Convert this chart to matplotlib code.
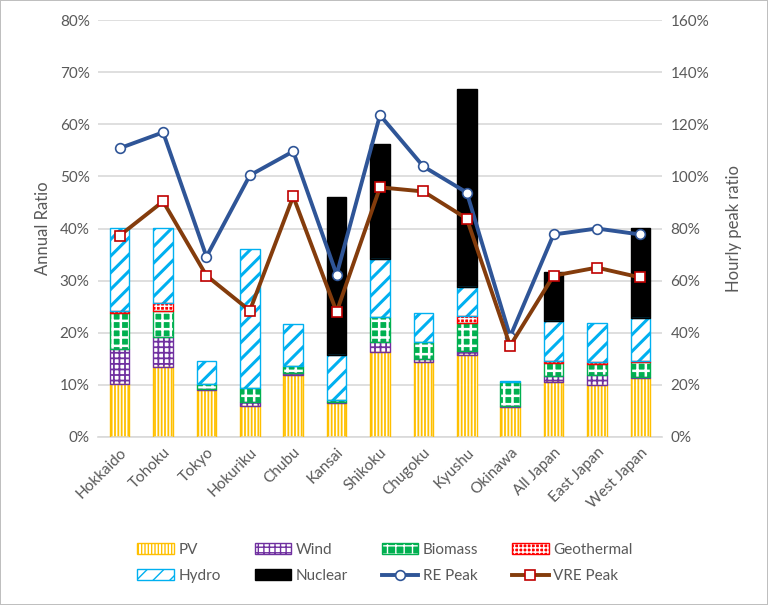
import matplotlib
matplotlib.use("Agg")
import matplotlib.pyplot as plt
from matplotlib.legend_handler import HandlerTuple
import numpy as np

plt.rcParams['font.family'] = ['Lato', 'DejaVu Sans']

regions = ["Hokkaido", "Tohoku", "Tokyo", "Hokuriku", "Chubu", "Kansai", "Shikoku",
           "Chugoku", "Kyushu", "Okinawa", "All Japan", "East Japan", "West Japan"]

pv         = [10.2, 13.5, 9.0, 6.0, 11.9, 6.5, 16.3, 14.4, 15.8, 5.8, 10.6, 10.0, 11.3]
wind       = [6.7, 5.7, 0.2, 0.7, 0.3, 0.2, 2.0, 0.6, 0.7, 0.1, 1.1, 1.9, 0.3]
biomass    = [6.9, 5.0, 1.0, 2.7, 1.5, 0.4, 4.8, 3.3, 5.4, 4.7, 2.5, 2.1, 2.7]
geothermal = [0.4, 1.6, 0.0, 0.0, 0.0, 0.0, 0.0, 0.0, 1.4, 0.0, 0.3, 0.3, 0.3]
hydro      = [15.8, 14.2, 4.4, 26.6, 8.0, 8.7, 11.1, 5.5, 5.5, 0.2, 7.8, 7.6, 8.2]
nuclear    = [0.0, 0.0, 0.0, 0.0, 0.0, 30.2, 22.0, 0.0, 37.9, 0.0, 9.4, 0.0, 17.3]

re_peak  = [110.8, 116.9, 69.2, 100.4, 109.6, 62.3, 123.5, 103.8, 93.8, 38.5, 77.7, 80.0, 77.7]
vre_peak = [77.3, 90.4, 61.9, 48.5, 92.3, 48.0, 95.8, 94.2, 83.8, 35.0, 61.9, 65.0, 61.2]

left_ticks = [0, 10, 20, 30, 40, 50, 60, 70, 80]
right_ticks = [0, 20, 40, 60, 80, 100, 120, 140, 160]

txt = '#595959'
fig = plt.figure(figsize=(7.68, 6.05), dpi=100)
fig.patch.set_edgecolor('#BFBFBF')
fig.patch.set_linewidth(1.2)
ax = fig.add_axes([98/768, 1-437/605, (662-98)/768, (437-20)/605])
ax2 = ax.twinx()

x = np.arange(len(regions))
w = 0.45
# name, values, face, hatch colour, hatch, hatch lw, outline colour
series = [
    ("PV", pv, 'white', '#FFC000', '|||||', 1.3, '#FFC000'),
    ("Wind", wind, 'white', '#7030A0', '+++', 1.3, '#7030A0'),
    ("Biomass", biomass, '#00B050', 'white', '++', 1.8, '#00B050'),
    ("Geothermal", geothermal, '#FF0000', 'white', '++++', 1.0, '#FF0000'),
    ("Hydro", hydro, 'white', '#00B0F0', '//', 2.2, '#00B0F0'),
    ("Nuclear", nuclear, 'black', 'black', None, 1.0, 'black'),
]
bottom = np.zeros(len(regions))
handles = {}
for name, vals, fc, hc, hatch, hlw, oc in series:
    vals = np.array(vals)
    m = vals > 0
    fill = ax.bar(x[m], vals[m], w, bottom=bottom[m], facecolor=fc, edgecolor=hc,
                  hatch=hatch, linewidth=0, zorder=2)
    for b in fill:
        if hasattr(b, 'set_hatch_linewidth'):
            b.set_hatch_linewidth(hlw)
    outline = ax.bar(x[m], vals[m], w, bottom=bottom[m], fill=False, edgecolor=oc,
                     linewidth=1.0, zorder=3)
    handles[name] = (fill.patches[0], outline.patches[0])
    bottom = bottom + vals

ax.set_xlim(-0.5, len(regions) - 0.5)
ax.set_ylim(0, 80)
ax.set_yticks(left_ticks)
ax.set_yticklabels([f"{t}%" for t in left_ticks], color=txt, fontsize=11)
ax.set_xticks(x)
ax.set_xticklabels(regions, rotation=45, ha='right', rotation_mode='anchor',
                   color=txt, fontsize=11)
ax.grid(axis='y', color='#D9D9D9', linewidth=1.2, zorder=0)
ax.set_axisbelow(True)
ax.tick_params(length=0, pad=6)
for s in ['left', 'right', 'top']:
    ax.spines[s].set_visible(False)
ax.spines['bottom'].set_color('#D9D9D9')
ax.spines['bottom'].set_linewidth(1.2)
ax.set_ylabel("Annual Ratio", color=txt, fontsize=12, labelpad=6)

l1, = ax2.plot(x, re_peak, color='#2F5597', linewidth=2.8, marker='o', markersize=7,
               markerfacecolor='white', markeredgecolor='#2F5597', markeredgewidth=1.2,
               zorder=5, label='RE Peak')
l2, = ax2.plot(x, vre_peak, color='#843C0C', linewidth=2.8, marker='s', markersize=7,
               markerfacecolor='white', markeredgecolor='#C00000', markeredgewidth=1.2,
               zorder=6, label='VRE Peak')
ax2.set_ylim(0, 160)
ax2.set_yticks(right_ticks)
ax2.set_yticklabels([f"{t}%" for t in right_ticks], color=txt, fontsize=11)
ax2.tick_params(length=0, pad=6)
for s in ['left', 'right', 'top', 'bottom']:
    ax2.spines[s].set_visible(False)
ax2.set_ylabel("Hourly peak ratio", color=txt, fontsize=12, labelpad=12)

order = [handles["PV"], handles["Hydro"], handles["Wind"], handles["Nuclear"],
         handles["Biomass"], l1, handles["Geothermal"], l2]
labels = ["PV", "Hydro", "Wind", "Nuclear", "Biomass", "RE Peak", "Geothermal", "VRE Peak"]
leg = fig.legend(order, labels, ncol=4, loc='center', bbox_to_anchor=(385/768, 1-563/605),
                 frameon=False, fontsize=11, labelcolor=txt, columnspacing=2.2,
                 handlelength=2.4, handletextpad=0.3, labelspacing=0.8,
                 handler_map={tuple: HandlerTuple(ndivide=1, pad=0)})

fig.savefig("out.png", dpi=100)
